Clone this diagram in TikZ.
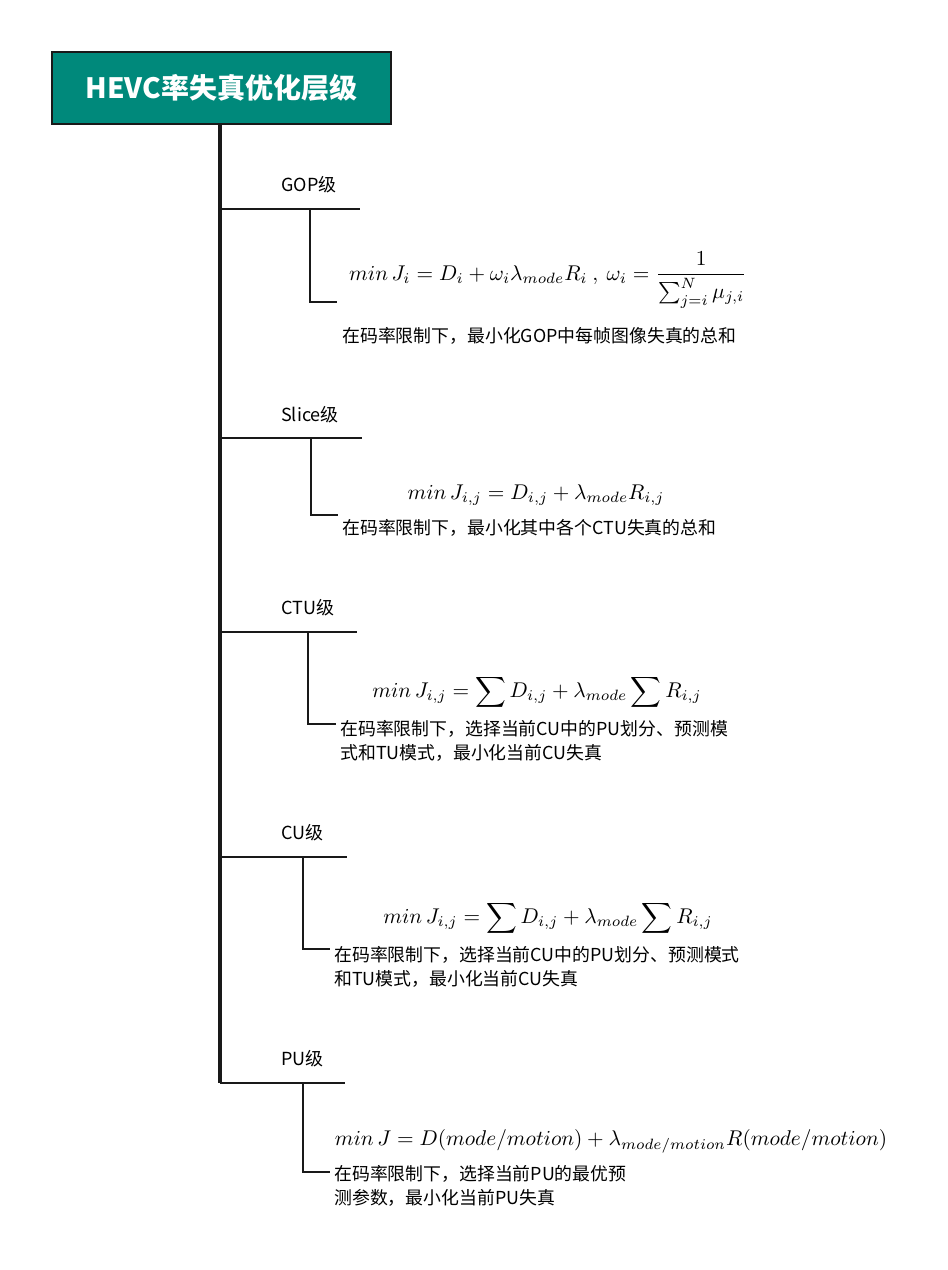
\documentclass[tikz,border=0pt]{standalone}
\usepackage{amsmath}
\usepackage{fontspec}
\setmainfont{Noto Sans CJK SC}
\begin{document}
\begin{tikzpicture}[x=0.75pt,y=-0.75pt,
  ln/.style={line width=1.5pt,black!90},
  sub/.style={line width=1pt,black!90},
  lvl/.style={anchor=west,inner sep=0pt,font=\fontsize{13.5}{16}\selectfont},
  txt/.style={anchor=north west,inner sep=0pt,align=left,font=\fontsize{13.4}{18}\selectfont},
  fm/.style={inner sep=0pt,scale=1.6,transform shape}]
\useasboundingbox (0,0) rectangle (947,1270);
\node[draw=black!90,line width=1.5pt,fill={rgb,255:red,0;green,137;blue,123},text=white,
  minimum width=339*0.75pt,minimum height=72*0.75pt,anchor=north west,
  font=\fontsize{21}{24}\selectfont\bfseries] (title) at (51,51) {HEVC率失真优化层级};
\coordinate (top) at (220,123);
\coordinate (bot) at (220,1083);
\draw[line width=2.4pt,black!90] (top) -- (bot);
% GOP
\node[lvl] (l1) at (281,185) {GOP级};
\coordinate (a1) at (220,209); \coordinate (b1) at (360,209);
\draw[ln] (a1) -- (b1);
\coordinate (s1) at (310,209); \coordinate (e1) at (337,302);
\draw[sub] (s1) |- (e1);
\node[fm] (f1) at (548,280) {$min\,J_i=D_i+\omega_i\lambda_{mode}R_i\ ,\ \omega_i=\dfrac{1}{\sum_{j=i}^{N}\mu_{j,i}}$};
\node[txt] (t1) at (342,327) {在码率限制下，最小化GOP中每帧图像失真的总和};
% Slice
\node[lvl] (l2) at (281,415) {Slice级};
\coordinate (a2) at (220,438); \coordinate (b2) at (362,438);
\draw[ln] (a2) -- (b2);
\coordinate (s2) at (311,438); \coordinate (e2) at (338,515);
\draw[sub] (s2) |- (e2);
\node[fm] (f2) at (536,495) {$min\,J_{i,j}=D_{i,j}+\lambda_{mode}R_{i,j}$};
\node[txt] (t2) at (342,519) {在码率限制下，最小化其中各个CTU失真的总和};
% CTU
\node[fm] (f3) at (537,692) {$min\,J_{i,j}=\displaystyle\sum D_{i,j}+\lambda_{mode}\displaystyle\sum R_{i,j}$};
\node[lvl] (l3) at (281,608) {CTU级};
\coordinate (a3) at (220,632); \coordinate (b3) at (357,632);
\draw[ln] (a3) -- (b3);
\coordinate (s3) at (308,632); \coordinate (e3) at (336,724);
\draw[sub] (s3) |- (e3);
\node[txt] (t3) at (340,720) {在码率限制下，选择当前CU中的PU划分、预测模\\式和TU模式，最小化当前CU失真};
% CU
\node[lvl] (l4) at (281,833) {CU级};
\coordinate (a4) at (220,857); \coordinate (b4) at (347,857);
\draw[ln] (a4) -- (b4);
\coordinate (s4) at (303,857); \coordinate (e4) at (330,949);
\draw[sub] (s4) |- (e4);
\node[fm] (f4) at (548,918) {$min\,J_{i,j}=\displaystyle\sum D_{i,j}+\lambda_{mode}\displaystyle\sum R_{i,j}$};
\node[txt] (t4) at (334,946) {在码率限制下，选择当前CU中的PU划分、预测模式\\和TU模式，最小化当前CU失真};
% PU
\node[lvl] (l5) at (281,1059) {PU级};
\coordinate (a5) at (220,1083); \coordinate (b5) at (345,1083);
\draw[ln] (a5) -- (b5);
\coordinate (s5) at (303,1083); \coordinate (e5) at (330,1172);
\draw[sub] (s5) |- (e5);
\node[fm] (f5) at (611,1141) {$min\,J=D(mode/motion)+\lambda_{mode/motion}R(mode/motion)$};
\node[txt] (t5) at (334,1165) {在码率限制下，选择当前PU的最优预\\测参数，最小化当前PU失真};
\end{tikzpicture}
\end{document}
